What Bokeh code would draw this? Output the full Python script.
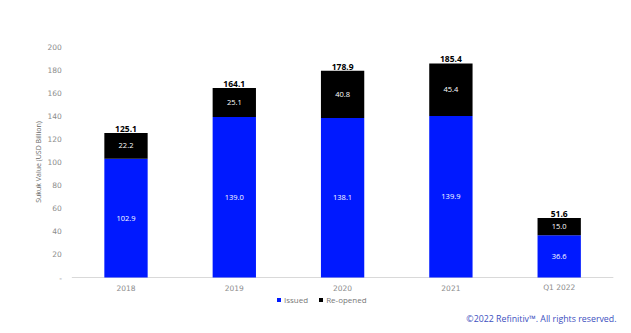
from bokeh.plotting import figure
from bokeh.models import ColumnDataSource, LabelSet, Label, Legend, LegendItem, Range1d
from bokeh.core.properties import value
from bokeh.embed import file_html
from bokeh.resources import INLINE

categories = ["2018", "2019", "2020", "2021", "Q1 2022"]
issued = [102.9, 139.0, 138.1, 139.9, 36.6]
reopened = [22.2, 25.1, 40.8, 45.4, 15.0]
totals = [125.1, 164.1, 178.9, 185.4, 51.6]
y_ticks = [0, 20, 40, 60, 80, 100, 120, 140, 160, 180, 200]
y_tick_labels = ["-", "20", "40", "60", "80", "100", "120", "140", "160", "180", "200"]

BLUE = "#0019FF"
FONT = "Open Sans"
TICK_FONT = "DejaVu Sans"
W, H = 631, 333

# pixel layout of the plotting area
X0_PX, STEP_PX = 125.5, 108.3          # first category centre, spacing
Y0_PX, YTOP_PX = 277, 46               # pixel rows of 0 and of 200
PX_PER_UNIT = (Y0_PX - YTOP_PX) / max(y_ticks)

n = len(categories)
xs = list(range(n))

src = ColumnDataSource(dict(
    x=xs,
    issued=issued,
    reopened=reopened,
    total=totals,
    issued_mid=[v / 2 for v in issued],
    reopened_mid=[i + r / 2 for i, r in zip(issued, reopened)],
    issued_txt=[f"{v:.1f}" for v in issued],
    reopened_txt=[f"{v:.1f}" for v in reopened],
    total_txt=[f"{v:.1f}" for v in totals],
    cat=categories,
    zero=[0] * n,
))

p = figure(width=W, height=H, output_backend="svg", toolbar_location=None,
           min_border=0, min_border_left=0, min_border_right=0,
           min_border_top=0, min_border_bottom=0)
p.x_range = Range1d(-X0_PX / STEP_PX, (W - X0_PX) / STEP_PX)
p.y_range = Range1d(-(H - Y0_PX) / PX_PER_UNIT, max(y_ticks) + YTOP_PX / PX_PER_UNIT)
p.axis.visible = False
p.grid.visible = False
p.outline_line_color = None

# baseline (x axis line)
p.segment(x0=[-0.5], y0=[0], x1=[n - 0.5], y1=[0], line_color="#d9d9d9", line_width=1)

r = p.vbar_stack(["issued", "reopened"], x="x", width=0.4, source=src,
                 color=[BLUE, "#000000"], line_color=None)

p.add_layout(LabelSet(x="x", y="issued_mid", text="issued_txt", source=src,
                      text_align="center", text_baseline="middle",
                      text_color="white", text_font_size="7.5px", text_font=value(FONT)))
p.add_layout(LabelSet(x="x", y="reopened_mid", text="reopened_txt", source=src,
                      text_align="center", text_baseline="middle",
                      text_color="white", text_font_size="7.5px", text_font=value(FONT)))
p.add_layout(LabelSet(x="x", y="total", text="total_txt", source=src,
                      text_align="center", text_baseline="bottom", y_offset=1,
                      text_color="black", text_font_size="8.5px", text_font=value(FONT),
                      text_font_style="bold"))

# category (x tick) labels
p.add_layout(LabelSet(x="x", y="zero", text="cat", source=src,
                      text_align="center", text_baseline="middle", y_offset=-10,
                      text_color="#8c8c8c", text_font_size="7.5px", text_font=value(TICK_FONT)))

# y tick labels
ysrc = ColumnDataSource(dict(y=y_ticks, txt=y_tick_labels, x=[-0.5] * len(y_ticks)))
p.add_layout(LabelSet(x="x", y="y", text="txt", source=ysrc, x_offset=-10,
                      text_align="right", text_baseline="middle",
                      text_color="#8c8c8c", text_font_size="7.5px", text_font=value(TICK_FONT)))

# y axis title
p.add_layout(Label(x=38, y=max(y_ticks) / 2, x_units="screen", y_units="data",
                   text="Sukuk Value (USD Billion)", angle=90, angle_units="deg",
                   text_align="center", text_baseline="middle",
                   text_color="#666666", text_font_size="7px", text_font=FONT))

legend = Legend(items=[LegendItem(label="Issued", renderers=[r[0]]),
                       LegendItem(label="Re-opened", renderers=[r[1]])],
                orientation="horizontal", location=(276, 28),
                background_fill_alpha=0, border_line_color=None,
                label_text_font_size="8px", label_text_color="#777777",
                label_text_font=FONT, glyph_width=5, glyph_height=5,
                label_standoff=3, spacing=10, padding=0, margin=0,
                label_height=9)
p.add_layout(legend)

p.add_layout(Label(x=616, y=H - 318, x_units="screen", y_units="screen",
                   text="\u00a92022 Refinitiv\u2122. All rights reserved.",
                   text_align="right", text_baseline="middle",
                   text_color="#3c4fc0", text_font_size="8.8px", text_font=FONT))

open("out.html", "w").write(file_html(p, INLINE))
